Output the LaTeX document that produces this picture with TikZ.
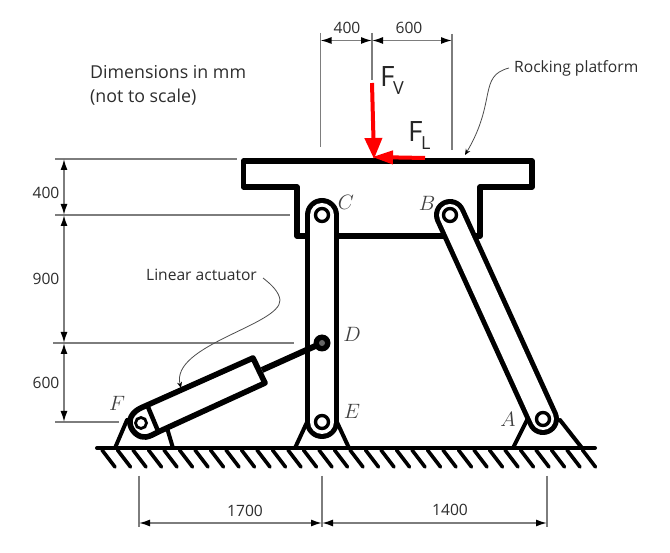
\documentclass[tikz,border=0pt]{standalone}
\usepackage{fontspec}
\setmainfont{Open Sans}
\usetikzlibrary{arrows.meta}
\definecolor{dimgray}{RGB}{125,125,125}
\definecolor{txt}{RGB}{45,45,45}
\tikzset{
 x=1pt,y=-1pt,
 struct/.style={line width=5.6pt,line join=round,line cap=round,black},
 supportline/.style={line width=4pt,line cap=round,black},
 hatchline/.style={line width=3.6pt,line cap=round,black},
 dimline/.style={line width=1.5pt,dimgray},
 dimarrow/.style={line width=1.5pt,dimgray,{Latex[black,length=11pt,width=7pt]}-{Latex[black,length=11pt,width=7pt]}},
 leader/.style={line width=.8pt,black!70,-{Stealth[black,length=6pt,width=5pt]}},
 leaderplain/.style={line width=.8pt,black!70},
 forcev/.style={line width=4pt,red,-{Triangle[red,length=21pt,width=17pt]}},
 forcel/.style={line width=4pt,red,-{Triangle[red,length=21pt,width=13pt]}},
 barout/.style={line width=34pt,line cap=round,black},
 barin/.style={line width=24pt,line cap=round,white},
 pinring/.style={circle,draw=black,fill=white,line width=3.4pt,inner sep=0pt,minimum size=13pt},
 lbl/.style={text=txt,font=\fontsize{15.6}{17}\selectfont,inner sep=0pt},
 note/.style={text=txt,font=\fontsize{17.8}{24}\selectfont,inner sep=0pt},
 joint/.style={text=black!75,font=\fontsize{20}{22}\selectfont,inner sep=0pt},
 forcelbl/.style={text=black!85,font=\fontsize{28}{30}\selectfont,inner sep=0pt},
 forcesub/.style={text=black!85,font=\fontsize{18}{20}\selectfont,inner sep=0pt},
}
\begin{document}
\begin{tikzpicture}
\useasboundingbox (0,0) rectangle (670,553);
\fill[white] (0,0) rectangle (670,553);
\coordinate (A) at (543,419);
\coordinate (B) at (450,215);
\coordinate (C) at (322,215);
\coordinate (D) at (322,343);
\coordinate (E) at (322,422);
\coordinate (F) at (141,423);
% dimension lines
\draw[dimline] (320.5,33) -- (320.5,147);
\draw[dimline] (372,33) -- (372,80);
\draw[dimline] (452,34) -- (452,150);
\draw[dimline] (55,159) -- (237,159);
\draw[dimline] (55,215) -- (290,215);
\draw[dimline] (53,343) -- (294,343);
\draw[dimline] (55,422) -- (119,422);
\draw[dimline] (139,476) -- (139,527);
\draw[dimline] (322,476) -- (322,527);
\draw[dimline] (547,476) -- (547,527);
\draw[dimarrow] (320.5,40.5) -- (372,40.5);
\draw[dimarrow] (372,40.5) -- (452,40.5);
\draw[dimarrow] (64,159) -- (64,215);
\draw[dimarrow] (64,215) -- (64,343);
\draw[dimarrow] (64,343) -- (64,422);
\draw[dimarrow] (139,523) -- (322,523);
\draw[dimarrow] (322,523) -- (547,523);
% platform
\draw[struct] (243.5,161) -- (532,161) -- (532,187) -- (480,187) -- (480,236) -- (297,236) -- (297,187) -- (243.5,187) -- cycle;
% ground
\draw[supportline] (97,448) -- (595,448);
\foreach \k in {0,...,31}{
  \draw[hatchline] ({102+15.5*\k},450) -- ({115+15.5*\k},467);
}
% supports
\draw[supportline] (115,448) -- (127,420);
\draw[supportline] (173,448) -- (167,428);
\draw[supportline] (295,448) -- (308,420);
\draw[supportline] (349,448) -- (336,420);
\draw[supportline] (513,448) -- (528,418);
\draw[supportline] (582,448) -- (560,420);
% links
\draw[barout] (C) -- (E);
\draw[barin] (C) -- (E);
\draw[barout,line width=32pt] (B) -- (A);
\draw[barin,line width=22pt] (B) -- (A);
% actuator
\draw[line width=6pt,black] (D) -- (262,370);
\draw[struct,fill=white] (265,383) -- (253,358) -- (143,407) .. controls (133,411) and (129,418) .. (130,424) .. controls (132,433) and (140,438) .. (146,437) .. controls (150,436.5) and (154,434) .. (158,432) -- cycle;
\draw[line width=4.5pt,black] (148,407) -- (158,431);
% pins
\node[pinring] (pinA) at (A) {};
\node[pinring] (pinB) at (B) {};
\node[pinring] (pinC) at (C) {};
\node[pinring] (pinE) at (E) {};
\node[pinring,minimum size=11pt,line width=2.8pt] (pinF) at (F) {};
\node[circle,fill=black,minimum size=17pt,inner sep=0pt] (pinD) at (D) {};
\node[circle,fill=black!60,minimum size=6pt,inner sep=0pt] (pinDc) at (D) {};
% forces
\coordinate (FVs) at (372,83);
\coordinate (FVe) at (374,159);
\coordinate (FLs) at (425,158);
\coordinate (FLe) at (372,157);
\draw[forcev] (FVs) -- (FVe);
\draw[forcel] (FLs) -- (FLe);
% leaders
\coordinate (Lr1) at (509,68);
\coordinate (Lr2) at (465,155);
\coordinate (La1) at (263,278);
\coordinate (La2) at (280,300);
\coordinate (La3) at (181,388);
\draw[leader] (Lr1) .. controls (478,76) and (497,101) .. (Lr2);
\draw[leaderplain] (La1) .. controls (272,285) and (279,292) .. (La2);
\draw[leader] (La2) .. controls (281,325) and (170,345) .. (La3);
% labels
\node[lbl] (d400t) at (347,28) {400};
\node[lbl] (d600t) at (409,28) {600};
\node[lbl] (d400l) at (46,193) {400};
\node[lbl] (d900l) at (46,279) {900};
\node[lbl] (d600l) at (46,383) {600};
\node[lbl] (d1700) at (245,511) {1700};
\node[lbl] (d1400) at (450,510) {1400};
\node[note,anchor=west] (n1) at (90,72) {Dimensions in mm};
\node[note,anchor=west] (n2) at (90,97) {(not to scale)};
\node[lbl,anchor=west] (n3) at (514,68) {Rocking platform};
\node[lbl,anchor=west] (n4) at (146,275) {Linear actuator};
\node[joint] (lC) at (346,202) {$C$};
\node[joint] (lB) at (427,203) {$B$};
\node[joint] (lD) at (352,334) {$D$};
\node[joint] (lE) at (352,411) {$E$};
\node[joint] (lF) at (117,403) {$F$};
\node[joint] (lA) at (508,419) {$A$};
\node[forcelbl,anchor=west] (fv) at (380,77) {F};
\node[forcesub,anchor=west] (fvs) at (393,88) {V};
\node[forcelbl,anchor=west] (fl) at (408,132) {F};
\node[forcesub,anchor=west] (fls) at (421,143) {L};
\end{tikzpicture}
\end{document}
